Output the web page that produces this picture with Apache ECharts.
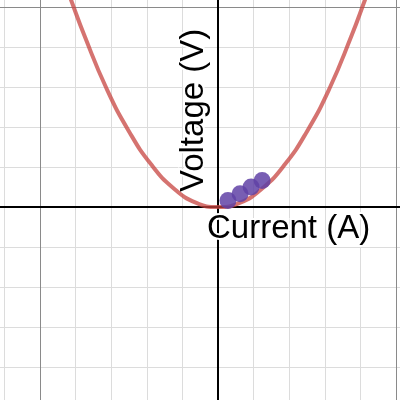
<!DOCTYPE html>
<html><head><meta charset="utf-8">
<script src="https://cdn.jsdelivr.net/npm/echarts@6/dist/echarts.min.js"></script>
<style>html,body{margin:0;padding:0;background:#fff}#c{width:400px;height:400px}</style>
</head><body><div id="c"></div>
<script>
// Curve points (current A, voltage V)
const curveX = [-4.375, -4.125, -3.75, -3.125, -2.5, -1.875, -1.25, -0.625, 0, 0.625, 1.25, 1.875, 2.5, 3.125, 3.75, 4.125, 4.375];
const curveY = [5.78, 5.17, 4.28, 2.95, 1.89, 1.06, 0.47, 0.11, 0, 0.11, 0.47, 1.06, 1.89, 2.95, 4.28, 5.17, 5.78];
const measX = [0.28, 0.62, 0.93, 1.24];
const measY = [0.16, 0.33, 0.5, 0.66];
const minorX = [-6,-4,-3,-2,-1,1,2,3,4];
const minorY = [-4,-3,-2,-1,1,2,3,4];
const majorX = [-5, 5];
const majorY = [-5, 5];
const xLabel = 'Current (A)';
const yLabel = 'Voltage (V)';

const chart = echarts.init(document.getElementById('c'));
const UX = 35.6, UY = 40;
const ml = (arr, key, color, width) => arr.map(v => ({[key]: v, lineStyle:{color, width, type:'solid'}}));
const txt = {font:'33px "Liberation Sans", Arial', fill:'#000', stroke:'#fff', lineWidth:4};
chart.setOption({
  animation:false,
  grid:{left:0, right:0, top:0, bottom:0},
  xAxis:{type:'value', min:-218/UX, max:182/UX, axisLine:{show:false}, axisTick:{show:false}, axisLabel:{show:false}, splitLine:{show:false}},
  yAxis:{type:'value', min:-193/UY, max:207/UY, axisLine:{show:false}, axisTick:{show:false}, axisLabel:{show:false}, splitLine:{show:false}},
  series:[
    {type:'line', z:0, data:[], markLine:{silent:true, z:0, symbol:'none', label:{show:false},
      data:[...ml(minorX,'xAxis','#dcdcdc',1), ...ml(minorY,'yAxis','#dcdcdc',1),
            ...ml(majorX,'xAxis','#8a8a8a',1), ...ml(majorY,'yAxis','#8a8a8a',1),
            ...ml([0],'xAxis','#000',2), ...ml([0],'yAxis','#000',2)]}},
    {type:'line', z:5, smooth:true, symbol:'none', data:curveX.map((x,i)=>[x,curveY[i]]),
      lineStyle:{color:'#c74440', width:4, opacity:0.75}},
    {type:'scatter', z:6, symbolSize:17, data:measX.map((x,i)=>[x,measY[i]]),
      itemStyle:{color:'#6042a6', opacity:0.85}}
  ],
  graphic:[
    {type:'text', z:1, left:205, top:210, style:Object.assign({text:xLabel}, txt)},
    {type:'text', z:1, x:177, y:192, rotation:Math.PI/2, style:Object.assign({text:yLabel, textAlign:'left', textVerticalAlign:'top'}, txt)}
  ]
});
</script></body></html>
